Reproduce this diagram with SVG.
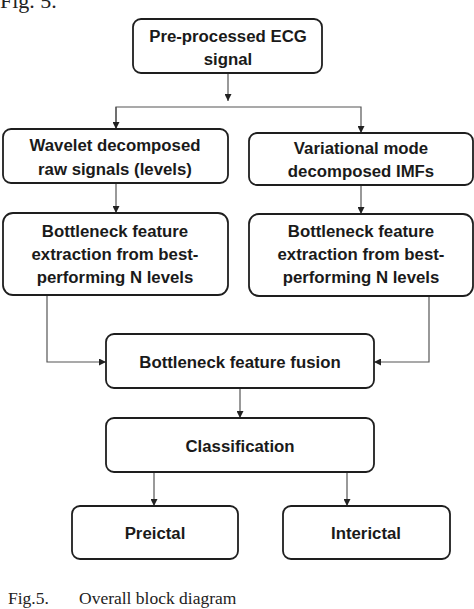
<svg xmlns="http://www.w3.org/2000/svg" width="474" height="609" viewBox="0 0 474 609">
<style>
.box{fill:#fff;stroke:#1e1e1e;stroke-width:1.8}
.t{font-family:"Liberation Sans",Arial,sans-serif;font-weight:bold;font-size:16.8px;fill:#1a1a1a;text-anchor:middle}
.c{fill:none;stroke:#555;stroke-width:1.2}
.cap{font-family:"Liberation Serif","Times New Roman",serif;font-size:17.5px;fill:#222}
</style>
<defs>
<marker id="ah" viewBox="0 0 10 10" refX="10" refY="5" markerWidth="7" markerHeight="7" markerUnits="userSpaceOnUse" orient="auto">
<path d="M0,0 L10,5 L0,10 z" fill="#222"/>
</marker>
</defs>
<rect width="474" height="609" fill="#fff"/>
<text class="cap" x="0" y="8" style="font-size:22px">Fig. 5.</text>
<g id="connectors">
<path class="c" d="M228,73 V101" marker-end="url(#ah)"/>
<path class="c" d="M116,129 V107 H361 V133" marker-end="url(#ah)"/>
<path class="c" d="M116,107 V129" marker-end="url(#ah)"/>
<path class="c" d="M116,183 V213" marker-end="url(#ah)"/>
<path class="c" d="M361,185 V214" marker-end="url(#ah)"/>
<path class="c" d="M47,295 V362 H106" marker-end="url(#ah)"/>
<path class="c" d="M429,296 V362 H374" marker-end="url(#ah)"/>
<path class="c" d="M240,388 V418" marker-end="url(#ah)"/>
<path class="c" d="M154,472 V506" marker-end="url(#ah)"/>
<path class="c" d="M347,472 V506" marker-end="url(#ah)"/>
</g>
<g id="preprocessed">
<rect class="box" x="133" y="19" width="189" height="54" rx="8"/>
<text class="t" x="228" y="42">Pre-processed ECG</text>
<text class="t" x="228" y="65">signal</text>
</g>
<g id="wavelet">
<rect class="box" x="3" y="129" width="225" height="54" rx="8"/>
<text class="t" x="115" y="151">Wavelet decomposed</text>
<text class="t" x="115" y="175">raw signals (levels)</text>
</g>
<g id="vmd">
<rect class="box" x="249" y="133" width="224" height="52" rx="8"/>
<text class="t" x="361" y="154">Variational mode</text>
<text class="t" x="361" y="177">decomposed IMFs</text>
</g>
<g id="bn-left">
<rect class="box" x="3" y="213" width="225" height="82" rx="10"/>
<text class="t" x="115" y="237">Bottleneck feature</text>
<text class="t" x="115" y="260">extraction from best-</text>
<text class="t" x="115" y="283">performing N levels</text>
</g>
<g id="bn-right">
<rect class="box" x="249" y="214" width="224" height="82" rx="10"/>
<text class="t" x="361" y="237">Bottleneck feature</text>
<text class="t" x="361" y="260">extraction from best-</text>
<text class="t" x="361" y="283">performing N levels</text>
</g>
<g id="fusion">
<rect class="box" x="106" y="334" width="268" height="54" rx="8"/>
<text class="t" x="240" y="368">Bottleneck feature fusion</text>
</g>
<g id="classification">
<rect class="box" x="106" y="418" width="268" height="54" rx="8"/>
<text class="t" x="240" y="452">Classification</text>
</g>
<g id="preictal">
<rect class="box" x="72" y="506" width="166" height="53" rx="8"/>
<text class="t" x="155" y="539">Preictal</text>
</g>
<g id="interictal">
<rect class="box" x="283" y="506" width="167" height="53" rx="8"/>
<text class="t" x="366" y="539">Interictal</text>
</g>
<text class="cap" x="8" y="604">Fig.5.</text>
<text class="cap" x="79" y="604">Overall block diagram</text>
</svg>
